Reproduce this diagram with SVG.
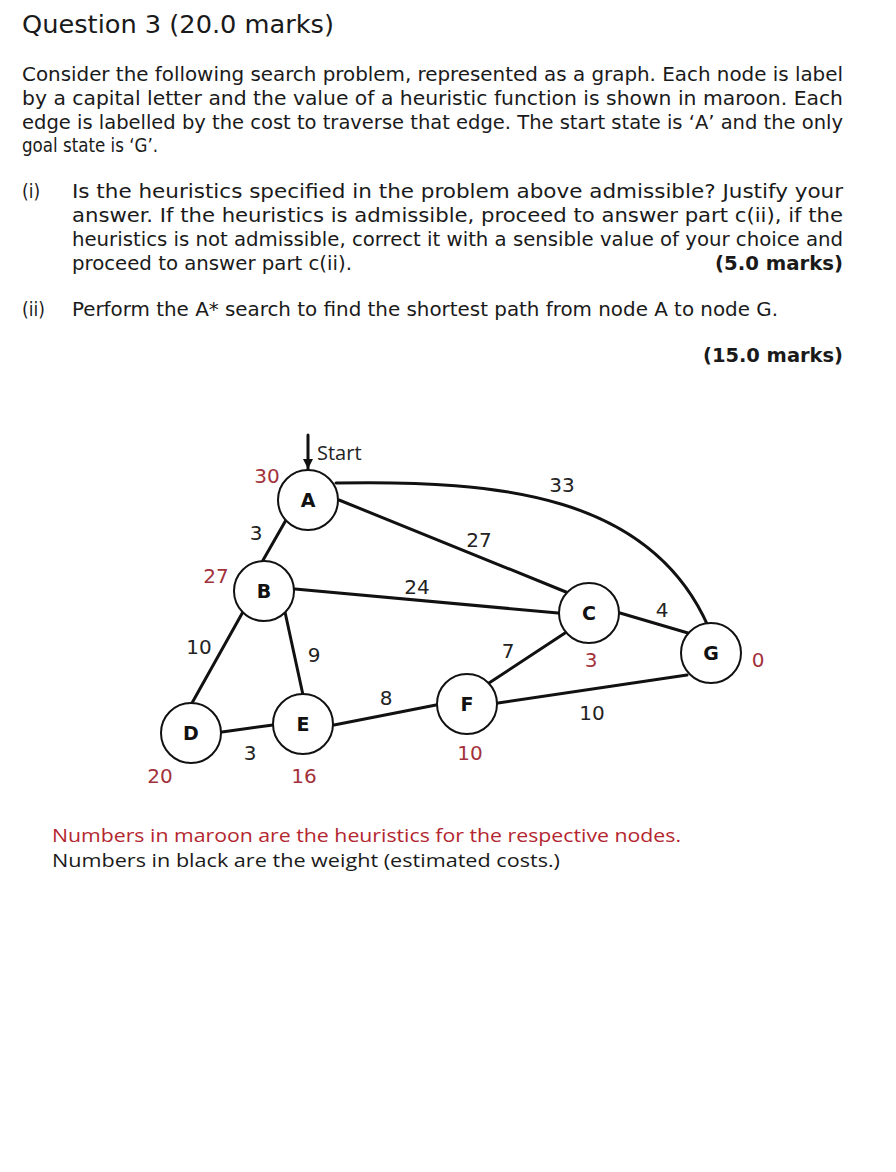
<svg xmlns="http://www.w3.org/2000/svg" width="896" height="1172" viewBox="0 0 896 1172">
<style>
.t{font-family:"DejaVu Sans Condensed","DejaVu Sans",sans-serif;font-size:19px;fill:#1a1a1a}
.b{font-weight:bold}
.ttl{font-family:"DejaVu Sans Condensed","DejaVu Sans",sans-serif;font-size:25px;fill:#1a1a1a}
.lbl{font-family:"DejaVu Sans",Verdana,sans-serif;font-size:20px;fill:#222;text-anchor:middle}
.h{fill:#a3323c}
.nl{font-family:"DejaVu Sans",Verdana,sans-serif;font-size:19px;font-weight:bold;fill:#111;text-anchor:middle}
.nd{fill:#fff;stroke:#111;stroke-width:2}
.e{stroke:#111;stroke-width:3;fill:none;stroke-linecap:round}
.note{font-family:"Open Sans","Noto Sans",sans-serif;font-size:19px}
</style>
<defs>
<marker id="ah" viewBox="0 0 10 10" refX="10" refY="5" markerWidth="11" markerHeight="10" markerUnits="userSpaceOnUse" orient="auto">
<path d="M0,0 L10,5 L0,10 Z" fill="#111"/>
</marker>
</defs>
<rect width="896" height="1172" fill="#fff"/>
<g id="text">
<text class="ttl" x="22" y="33" textLength="312" lengthAdjust="spacingAndGlyphs">Question 3 (20.0 marks)</text>
<text class="t" x="22" y="81" textLength="821" lengthAdjust="spacingAndGlyphs">Consider the following search problem, represented as a graph. Each node is label</text>
<text class="t" x="22" y="105" textLength="821" lengthAdjust="spacingAndGlyphs">by a capital letter and the value of a heuristic function is shown in maroon. Each</text>
<text class="t" x="22" y="129" textLength="821" lengthAdjust="spacingAndGlyphs">edge is labelled by the cost to traverse that edge. The start state is ‘A’ and the only</text>
<text class="t" x="22" y="152" textLength="136" lengthAdjust="spacingAndGlyphs">goal state is ‘G’.</text>
<text class="t" x="22" y="198">(i)</text>
<text class="t" x="72" y="198" textLength="771" lengthAdjust="spacingAndGlyphs">Is the heuristics specified in the problem above admissible? Justify your</text>
<text class="t" x="72" y="222" textLength="771" lengthAdjust="spacingAndGlyphs">answer. If the heuristics is admissible, proceed to answer part c(ii), if the</text>
<text class="t" x="72" y="246" textLength="771" lengthAdjust="spacingAndGlyphs">heuristics is not admissible, correct it with a sensible value of your choice and</text>
<text class="t" x="72" y="270" textLength="280" lengthAdjust="spacingAndGlyphs">proceed to answer part c(ii).</text>
<text class="t b" x="715" y="270" textLength="128" lengthAdjust="spacingAndGlyphs">(5.0 marks)</text>
<text class="t" x="22" y="316">(ii)</text>
<text class="t" x="72" y="316" textLength="706" lengthAdjust="spacingAndGlyphs">Perform the A* search to find the shortest path from node A to node G.</text>
<text class="t b" x="703" y="362" textLength="140" lengthAdjust="spacingAndGlyphs">(15.0 marks)</text>
<text class="note" x="52" y="842" fill="#b3262f" textLength="629" lengthAdjust="spacingAndGlyphs">Numbers in maroon are the heuristics for the respective nodes.</text>
<text class="note" x="52" y="867" fill="#1a1a1a" textLength="508" lengthAdjust="spacingAndGlyphs">Numbers in black are the weight (estimated costs.)</text>
</g>
<g id="connectors">
<line class="e" x1="308" y1="435" x2="308" y2="469" stroke-width="3" stroke-linecap="butt" marker-end="url(#ah)"/>
<line class="e" x1="286" y1="520" x2="262" y2="562"/>
<line class="e" x1="339" y1="500" x2="566" y2="592"/>
<path class="e" d="M336,483 C500,480 650,495 708,626"/>
<line class="e" x1="295" y1="589" x2="558" y2="613"/>
<line class="e" x1="620" y1="613" x2="688" y2="633"/>
<line class="e" x1="244" y1="610" x2="192" y2="703"/>
<line class="e" x1="285" y1="612" x2="303" y2="695"/>
<line class="e" x1="222" y1="732" x2="273" y2="725"/>
<line class="e" x1="334" y1="725" x2="436" y2="705"/>
<line class="e" x1="489" y1="683" x2="565" y2="633"/>
<line class="e" x1="498" y1="703" x2="687" y2="675"/>
</g>
<g id="edge-labels">
<text class="lbl" x="256" y="540">3</text>
<text class="lbl" x="199" y="654">10</text>
<text class="lbl" x="314" y="662">9</text>
<text class="lbl" x="250" y="760">3</text>
<text class="lbl" x="386" y="705">8</text>
<text class="lbl" x="508" y="658">7</text>
<text class="lbl" x="417" y="594">24</text>
<text class="lbl" x="479" y="547">27</text>
<text class="lbl" x="562" y="492">33</text>
<text class="lbl" x="662" y="617">4</text>
<text class="lbl" x="592" y="720">10</text>
<text x="317" y="460" font-family="Open Sans,Noto Sans,sans-serif" font-size="20" fill="#222">Start</text>
</g>
<g id="node-A"><circle class="nd" cx="308" cy="500" r="30"/><text class="nl" x="308" y="507">A</text><text class="lbl h" x="267" y="483">30</text></g>
<g id="node-B"><circle class="nd" cx="264" cy="591" r="30"/><text class="nl" x="264" y="598">B</text><text class="lbl h" x="216" y="583">27</text></g>
<g id="node-C"><circle class="nd" cx="589" cy="613" r="30"/><text class="nl" x="589" y="620">C</text><text class="lbl h" x="591" y="667">3</text></g>
<g id="node-D"><circle class="nd" cx="191" cy="733" r="30"/><text class="nl" x="191" y="740">D</text><text class="lbl h" x="160" y="783">20</text></g>
<g id="node-E"><circle class="nd" cx="303" cy="724" r="30"/><text class="nl" x="303" y="731">E</text><text class="lbl h" x="304" y="783">16</text></g>
<g id="node-F"><circle class="nd" cx="467" cy="704" r="30"/><text class="nl" x="467" y="711">F</text><text class="lbl h" x="470" y="760">10</text></g>
<g id="node-G"><circle class="nd" cx="711" cy="653" r="30"/><text class="nl" x="711" y="660">G</text><text class="lbl h" x="758" y="667">0</text></g>
</svg>
